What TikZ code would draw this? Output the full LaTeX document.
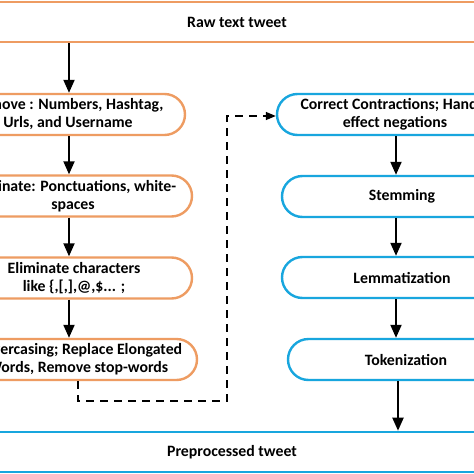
\documentclass[tikz,border=0pt]{standalone}
\usepackage{fontspec}
\setmainfont{Carlito}
\usetikzlibrary{shapes.misc,arrows.meta}
\definecolor{borange}{RGB}{238,156,98}
\definecolor{bcyan}{RGB}{24,166,222}
\tikzset{
  x=1pt,y=-1pt,
  stadium/.style={rounded rectangle, draw, line width=2.4pt, fill=white, minimum height=41pt, inner sep=0pt, align=center, font=\fontsize{15.8}{18}\selectfont\bfseries},
  lbox/.style={stadium, draw=borange},
  rbox/.style={stadium, draw=bcyan},
  band/.style={rectangle, draw, line width=2.6pt, fill=white, minimum height=40pt, minimum width=560pt, font=\fontsize{15.8}{18}\selectfont\bfseries},
  flow/.style={-{Triangle[length=13pt,width=11pt]}, line width=2pt},
  dashflow/.style={-{Triangle[length=10pt,width=8pt]}, line width=1.5pt, dash pattern=on 8pt off 6pt},
}
\begin{document}
\begin{tikzpicture}
\useasboundingbox (0,0) rectangle (474,474);
\clip (0,0) rectangle (474,474);
\fill[white] (0,0) rectangle (474,474);
\node[band, draw=borange] (raw) at (237,22) {Raw text tweet};
\node[band, draw=bcyan] (pre) at (232,452) {Preprocessed tweet};
\node[lbox, minimum width=234pt] (l1) at (68,114.5) {Remove : Numbers, Hashtag,\\Urls, and Username};
\node[lbox, minimum width=238pt] (l2) at (73,196) {Eliminate: Ponctuations, white-\\spaces};
\node[lbox, minimum width=236pt] (l3) at (74,278) {Eliminate characters\\like \{,[,],@,\$... ;};
\node[lbox, minimum width=238pt] (l4) at (78,359.5) {Lowercasing; Replace Elongated\\Words, Remove stop-words};
\node[rbox, minimum width=236pt] (r1) at (395,114.5) {Correct Contractions; Handle\\effect negations};
\node[rbox, minimum width=240pt] (r2) at (402,196.5) {Stemming};
\node[rbox, minimum width=240pt] (r3) at (402,277.5) {Lemmatization};
\node[rbox, minimum width=236pt] (r4) at (406,359.5) {Tokenization};
\coordinate (t1) at (69,0);
\draw[flow] (raw.south -| t1) -- (l1.north -| t1);
\draw[flow] (l1.south -| t1) -- (l2.north -| t1);
\draw[flow] (l2.south -| t1) -- (l3.north -| t1);
\draw[flow] (l3.south -| t1) -- (l4.north -| t1);
\coordinate (t2) at (396,0);
\draw[flow] (r1.south -| t2) -- (r2.north -| t2);
\draw[flow] (r2.south -| t2) -- (r3.north -| t2);
\draw[flow] (r3.south -| t2) -- (r4.north -| t2);
\coordinate (t3) at (398,0);
\draw[flow] (r4.south -| t3) -- (pre.north -| t3);
\coordinate (d1) at (78,401);
\coordinate (d2) at (227,116);
\draw[dashflow] (l4.south -| d1) -- (d1) -| (d2) -- (r1.west |- d2);
\end{tikzpicture}
\end{document}
